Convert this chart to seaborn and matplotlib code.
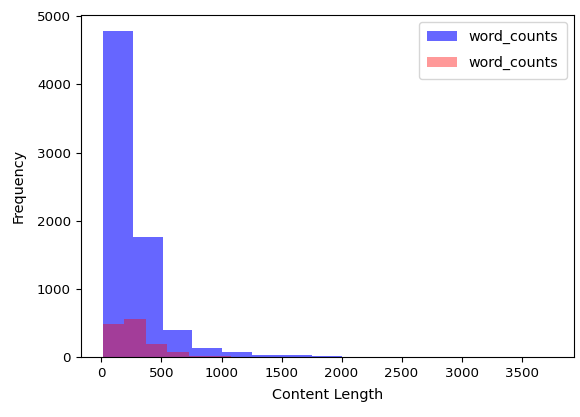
import numpy as np
import pandas as pd
import matplotlib
matplotlib.use("Agg")
import matplotlib.pyplot as plt
import seaborn as sns
from matplotlib.patches import Patch

# histogram: bin edges and counts per bin
blue_edges = [13, 261, 509, 758, 1006, 1255, 1503, 1752, 2000]
blue_counts = [4786, 1754, 390, 136, 68, 28, 22, 18]

red_edges = [13, 191, 369, 547, 725, 903, 1081, 1259, 1437, 1615, 1793,
             1971, 2149, 2327, 2505, 2683, 2861, 3039, 3217, 3395, 3573, 3752]
red_counts = [487, 551, 190, 73, 20, 8, 4, 3, 2, 1, 1,
              0, 1, 0, 0, 1, 0, 0, 0, 0, 1]

labels = ["word_counts", "word_counts"]

plt.rcParams['font.size'] = 9.6

blue_df = pd.DataFrame({
    'x': [(a + b) / 2 for a, b in zip(blue_edges[:-1], blue_edges[1:])],
    'w': blue_counts,
})
red_df = pd.DataFrame({
    'x': [(a + b) / 2 for a, b in zip(red_edges[:-1], red_edges[1:])],
    'w': red_counts,
})

fig = plt.figure(figsize=(5.8, 4.17), dpi=100)
ax = fig.add_axes([0.139, 0.144, 0.851, 0.821])

sns.histplot(data=blue_df, x='x', weights='w', bins=blue_edges, color='blue',
             alpha=0.6, linewidth=0, ax=ax)
sns.histplot(data=red_df, x='x', weights='w', bins=red_edges, color='red',
             alpha=0.4, linewidth=0, ax=ax)

ax.set_xlabel('Content Length', fontsize=10.4, labelpad=6)
ax.set_ylabel('Frequency', fontsize=10.4, labelpad=8)
ax.set_yticks([0, 1000, 2000, 3000, 4000, 5000])

handles = [Patch(facecolor='blue', alpha=0.6), Patch(facecolor='red', alpha=0.4)]
ax.legend(handles, labels, loc='upper right', fontsize=10.3,
          labelspacing=0.8, borderpad=0.6, handlelength=2.1)

fig.savefig('out.png', dpi=100)
